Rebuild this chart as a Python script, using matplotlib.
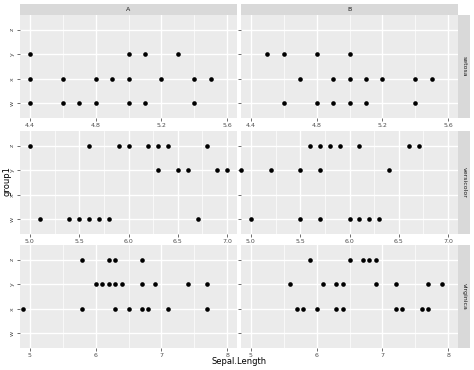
import matplotlib
matplotlib.use('Agg')
import matplotlib.pyplot as plt

# group1 levels (bottom to top)
levels = ['w', 'x', 'y', 'z']

# Sepal.Length values per panel, split by group1
setosa_a = {'w': [4.4, 4.6, 4.7, 4.8, 5.0, 5.1, 5.4],
            'x': [4.4, 4.6, 4.8, 4.9, 5.0, 5.2, 5.4, 5.5],
            'y': [4.4, 5.0, 5.1, 5.3],
            'z': []}
setosa_b = {'w': [4.6, 4.8, 4.9, 5.0, 5.1, 5.4],
            'x': [4.7, 4.9, 5.0, 5.1, 5.2, 5.4, 5.5],
            'y': [4.5, 4.6, 4.8, 5.0],
            'z': []}
versicolor_a = {'w': [5.1, 5.4, 5.5, 5.6, 5.7, 5.8, 6.7],
                'x': [],
                'y': [6.3, 6.5, 6.6, 6.9, 7.0],
                'z': [5.0, 5.6, 5.9, 6.0, 6.2, 6.3, 6.4, 6.8]}
versicolor_b = {'w': [5.0, 5.5, 5.7, 6.0, 6.1, 6.2, 6.3],
                'x': [],
                'y': [4.9, 5.2, 5.5, 5.7, 6.4],
                'z': [5.6, 5.7, 5.8, 5.9, 6.1, 6.6, 6.7]}
virginica_a = {'w': [],
               'x': [4.9, 5.8, 6.3, 6.5, 6.7, 6.8, 7.1, 7.7],
               'y': [6.0, 6.1, 6.2, 6.3, 6.4, 6.7, 6.9, 7.4, 7.7],
               'z': [5.8, 6.2, 6.3, 6.7]}
virginica_b = {'w': [],
               'x': [5.7, 5.8, 6.0, 6.3, 6.4, 7.2, 7.3, 7.6, 7.7],
               'y': [5.6, 6.1, 6.3, 6.4, 6.9, 7.2, 7.7, 7.9],
               'z': [5.9, 6.5, 6.7, 6.8, 6.9]}

species = ['setosa', 'versicolor', 'virginica']
groups = ['A', 'B']
panels = [[setosa_a, setosa_b],
          [versicolor_a, versicolor_b],
          [virginica_a, virginica_b]]

# per-row x scale: limits, major ticks, labels, minor ticks
x_limits = [(4.4, 5.6), (5.0, 7.0), (5.0, 8.0)]
x_major = [[4.4, 4.8, 5.2, 5.6], [5.0, 5.5, 6.0, 6.5, 7.0], [5, 6, 7, 8]]
x_labels = [['4.4', '4.8', '5.2', '5.6'],
            ['5.0', '5.5', '6.0', '6.5', '7.0'],
            ['5', '6', '7', '8']]
x_minor = [[4.6, 5.0, 5.4], [5.25, 5.75, 6.25, 6.75], [5.5, 6.5, 7.5]]

W, H = 474, 370
fig = plt.figure(figsize=(W / 100, H / 100), dpi=100)

col_left = [20, 241]
col_w = 217
row_top = [15, 131, 245]
row_h = 103
strip = 12

panel_bg = '#EBEBEB'
strip_bg = '#D9D9D9'
tick_col = '#4D4D4D'

for i, sp in enumerate(species):
    lo, hi = x_limits[i]
    pad = (hi - lo) * 0.05
    for j, grp in enumerate(groups):
        ax = fig.add_axes([col_left[j] / W, (H - row_top[i] - row_h) / H,
                           col_w / W, row_h / H])
        ax.set_facecolor(panel_bg)
        for s in ax.spines.values():
            s.set_visible(False)
        ax.set_xlim(lo - pad, hi + pad)
        ax.set_ylim(0.4, 4.6)

        for v in x_minor[i]:
            ax.axvline(v, color='white', lw=0.5, zorder=0)
        for v in x_major[i]:
            ax.axvline(v, color='white', lw=1.0, zorder=0)
        for k in range(len(levels)):
            ax.axhline(k + 1, color='white', lw=1.0, zorder=0)

        data = panels[i][j]
        for k, lev in enumerate(levels):
            vals = data[lev]
            ax.scatter(vals, [k + 1] * len(vals), s=11, color='black',
                       zorder=3, clip_on=False, linewidths=0)

        ax.set_xticks(x_major[i])
        ax.set_xticklabels(x_labels[i])
        ax.set_yticks(range(1, len(levels) + 1))
        if j == 0:
            ax.set_yticklabels(levels, rotation=90, va='center')
        else:
            ax.set_yticklabels([])
            ax.tick_params(axis='y', length=0)
        ax.tick_params(axis='both', labelsize=4.5, colors='#333333',
                       labelcolor=tick_col, length=2, width=0.5, pad=1.5)

        # top strip
        if i == 0:
            sax = fig.add_axes([col_left[j] / W, (H - row_top[0]) / H + 0.0,
                                col_w / W, (strip - 1) / H])
            sax.set_facecolor(strip_bg)
            sax.set_xticks([])
            sax.set_yticks([])
            for s in sax.spines.values():
                s.set_visible(False)
            sax.text(0.5, 0.5, grp, ha='center', va='center',
                     fontsize=4.5, color='#1A1A1A', transform=sax.transAxes)

    # right strip
    rax = fig.add_axes([(col_left[1] + col_w) / W,
                        (H - row_top[i] - row_h) / H,
                        strip / W, row_h / H])
    rax.set_facecolor(strip_bg)
    rax.set_xticks([])
    rax.set_yticks([])
    for s in rax.spines.values():
        s.set_visible(False)
    rax.text(0.5, 0.5, sp, ha='center', va='center', rotation=-90,
             fontsize=4.5, color='#1A1A1A', transform=rax.transAxes)

fig.text(239 / W, 1 - 362 / H, 'Sepal.Length', ha='center', va='center',
         fontsize=6, color='black')
fig.text(7 / W, 1 - 181 / H, 'group1', ha='center', va='center',
         rotation=90, fontsize=6, color='black')

fig.savefig('out.png', dpi=100)
